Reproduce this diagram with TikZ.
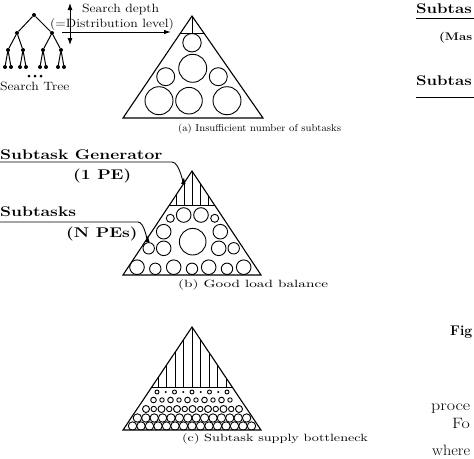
\documentclass[tikz,border=0pt]{standalone}
\usepackage{graphicx}
\usepackage{amsmath}
\usepackage{tikz}
\usetikzlibrary{arrows.meta}

\newcommand{\widetxt}[2][1.2]{\scalebox{#1}[1]{#2}}

\begin{document}
\begin{tikzpicture}[x=1pt,y=1pt,yscale=-1,xscale=1,
	tnode/.style={circle,fill,inner sep=0pt,minimum size=4pt},
	pyr/.style={line width=1.1pt,line join=miter},
	hatch/.style={line width=0.8pt},
	ball/.style={line width=0.9pt},
	feed/.style={line width=0.9pt,-{Latex[length=7pt,width=4.5pt]}},
	depth/.style={line width=0.9pt,{Latex[length=7pt,width=5pt]}-{Latex[length=7pt,width=5pt]}},
	lbl/.style={inner sep=0pt,anchor=base west,font=\fontsize{14}{14}\selectfont\bfseries},
	srch/.style={inner sep=0pt,anchor=base west,font=\fontsize{12}{12}\selectfont},
	capt/.style={inner sep=0pt,anchor=base west,font=\fontsize{10.5}{12}\selectfont},
	body/.style={inner sep=0pt,anchor=base west,font=\fontsize{15}{15}\selectfont}]
	\useasboundingbox (0,0) rectangle (474,458);
	
	%Search tree
	\node[tnode] (r) at (34,15) {};
	\node[tnode] (a) at (17,33) {};
	\node[tnode] (b) at (52,33) {};
	\node[tnode] (a1) at (8,50) {};
	\node[tnode] (a2) at (23,50) {};
	\node[tnode] (b1) at (43,50) {};
	\node[tnode] (b2) at (61,50) {};
	\node[tnode] (a11) at (5,67) {};
	\node[tnode] (a12) at (11,67) {};
	\node[tnode] (a21) at (20,67) {};
	\node[tnode] (a22) at (26,67) {};
	\node[tnode] (b11) at (40,67) {};
	\node[tnode] (b12) at (46,67) {};
	\node[tnode] (b21) at (58,67) {};
	\node[tnode] (b22) at (64,67) {};
	\foreach \u/\v in {r/a,r/b,a/a1,a/a2,b/b1,b/b2,a1/a11,a1/a12,a2/a21,a2/a22,b1/b11,b1/b12,b2/b21,b2/b22}
		\draw[line width=1pt] (\u) -- (\v);
	\node[tnode,minimum size=3pt] (d1) at (29,76) {};
	\node[tnode,minimum size=3pt] (d2) at (35,76) {};
	\node[tnode,minimum size=3pt] (d3) at (41,76) {};
	
	%Search depth arrows
	\coordinate (dtop) at (70,3);
	\coordinate (dbot) at (70,45);
	\coordinate (lvl) at (62,32);
	\coordinate (lvlend) at (171,32);
	\draw[depth] (dtop) -- (dbot);
	\draw[feed] (lvl) -- (lvlend);
	
	%Triangle (a)
	\coordinate (atop) at (192,16);
	\coordinate (abl) at (123,118);
	\coordinate (abr) at (263,118);
	\begin{scope}
		\clip (atop) -- (abl) -- (abr) -- cycle;
		\draw[hatch] (150,33) -- (240,33);
		\draw[hatch] (192,10) -- (192,33);
	\end{scope}
	\draw[pyr] (atop) -- (abl) -- (abr) -- cycle;
	\draw[ball] (192,42.7) circle (9.2);
	\draw[ball] (192.7,68.3) circle (14);
	\draw[ball] (165.7,76.7) circle (9);
	\draw[ball] (218.3,76.7) circle (9);
	\draw[ball] (159,100.7) circle (14);
	\draw[ball] (189,100.7) circle (13.3);
	\draw[ball] (227,100.7) circle (14);
	
	%Triangle (b)
	\coordinate (btop) at (192,171);
	\coordinate (bbl) at (123,275);
	\coordinate (bbr) at (261,275);
	\begin{scope}
		\clip (btop) -- (bbl) -- (bbr) -- cycle;
		\draw[hatch] (100,205) -- (280,205);
		\foreach \x in {176,184,192,200,208}
			\draw[hatch] (\x,160) -- (\x,205);
		\foreach \x/\y/\r in {170.3/218.3/4, 183.7/215/7.3, 201/215/7.3, 214.7/218.3/4,
			163.7/231.7/7.3, 220.3/231.7/7.3, 192.7/241.7/13.3,
			148.7/248.3/5.7, 163.7/248.3/7.3, 218.7/248.3/7.3, 233.7/248.3/5.7,
			137/267.2/7.3, 155.3/268.8/5.7, 173.7/267.2/7.3, 192/268.8/5.7,
			208.7/267.2/7.3, 227/268.8/5.7, 243.7/267.2/7.3}
			\draw[ball] (\x,\y) circle (\r);
	\end{scope}
	\draw[pyr] (btop) -- (bbl) -- (bbr) -- cycle;
	
	%Triangle (c)
	\coordinate (ctop) at (192,327);
	\coordinate (cbl) at (123,430);
	\coordinate (cbr) at (261,430);
	\begin{scope}
		\clip (ctop) -- (cbl) -- (cbr) -- cycle;
		\draw[hatch] (100,387) -- (280,387);
		\foreach \i in {0,...,8}
			\draw[hatch] (158+8.5*\i,320) -- (158+8.5*\i,387);
		% row 1
		\foreach \i in {0,2,4,6,8}
			\draw[ball] (157+8.75*\i,392) circle (2);
		\foreach \i in {1,3,5,7}
			\fill (157+8.75*\i,392) circle (1.1);
		% row 2
		\foreach \i in {0,2,4,6,8}
			\draw[ball] (153.5+8.5*\i,400) circle (2.8);
		\foreach \i in {1,3,5,7,9}
			\draw[ball] (153.5+8.5*\i,400) circle (2.2);
		% row 3
		\foreach \i in {0,2,...,12}
			\draw[ball] (146+7.75*\i,409) circle (3.5);
		\foreach \i in {1,3,...,11}
			\draw[ball] (146+7.75*\i,409) circle (2.7);
		% rows 4 and 5
		\foreach \i in {0,...,13}
			\draw[ball] (137.4+8.4*\i,418) circle (4.2);
		\foreach \i in {0,...,14}
			\draw[ball] (132.5+8.5*\i,426) circle (4.2);
	\end{scope}
	\draw[pyr] (ctop) -- (cbl) -- (cbr) -- cycle;
	
	%Feeding lines
	\coordinate (gen0) at (0,162);
	\coordinate (genbend) at (172,162);
	\coordinate (genhit) at (184,177);
	\coordinate (sub0) at (0,222);
	\coordinate (subbend) at (138,222);
	\coordinate (subhit) at (148,235);
	\draw[feed] (gen0) -- (genbend) to[out=0,in=95] (genhit);
	\draw[feed] (sub0) -- (subbend) to[out=0,in=95] (subhit);
	
	% Text Node
	\node[srch] (sdepth) at (82,12) {\widetxt[1.15]{Search depth}};
	% Text Node
	\node[srch] (dlevel) at (50,27.5) {\widetxt[1.15]{(=Distribution level)}};
	% Text Node
	\node[srch] (stree) at (0,90) {\widetxt[1.15]{Search Tree}};
	% Text Node
	\node[capt,font=\fontsize{10}{12}\selectfont] (capa) at (178,131) {\widetxt[1.07]{(a) Insufficient number of subtasks}};
	% Text Node
	\node[capt] (capb) at (178,287) {\widetxt[1.45]{(b) Good load balance}};
	% Text Node
	\node[capt] (capc) at (182,441.5) {\widetxt[1.35]{(c) Subtask supply bottleneck}};
	% Text Node
	\node[lbl] (gen) at (0,159) {\widetxt[1.25]{Subtask Generator}};
	% Text Node
	\node[lbl] (onepe) at (73,179) {\widetxt[1.25]{(1 PE)}};
	% Text Node
	\node[lbl] (subt) at (0,216) {\widetxt[1.25]{Subtasks}};
	% Text Node
	\node[lbl] (npes) at (66,237) {\widetxt[1.25]{(N PEs)}};
	
	%Text at the right edge, as far as it shows
	\node[lbl] (fraga) at (416,13.3) {\widetxt[1.2]{Subtas}};
	\draw[line width=0.9pt] (416,18) -- (474,18);
	\node[lbl,font=\fontsize{11}{11}\selectfont\bfseries] (fragb) at (439,40) {\widetxt[1.2]{(Mas}};
	\node[lbl] (fragc) at (416,85) {\widetxt[1.2]{Subtas}};
	\draw[line width=0.9pt] (416,97) -- (474,97);
	\node[lbl] (fragd) at (450,335) {Fig};
	\node[body] (frage) at (431,410) {\widetxt[1.2]{proce}};
	\node[body] (fragf) at (452,428) {\widetxt[1.2]{Fo}};
	\node[body] (fragg) at (432,455) {\widetxt[1.08]{where}};
	
\end{tikzpicture}
\end{document}
